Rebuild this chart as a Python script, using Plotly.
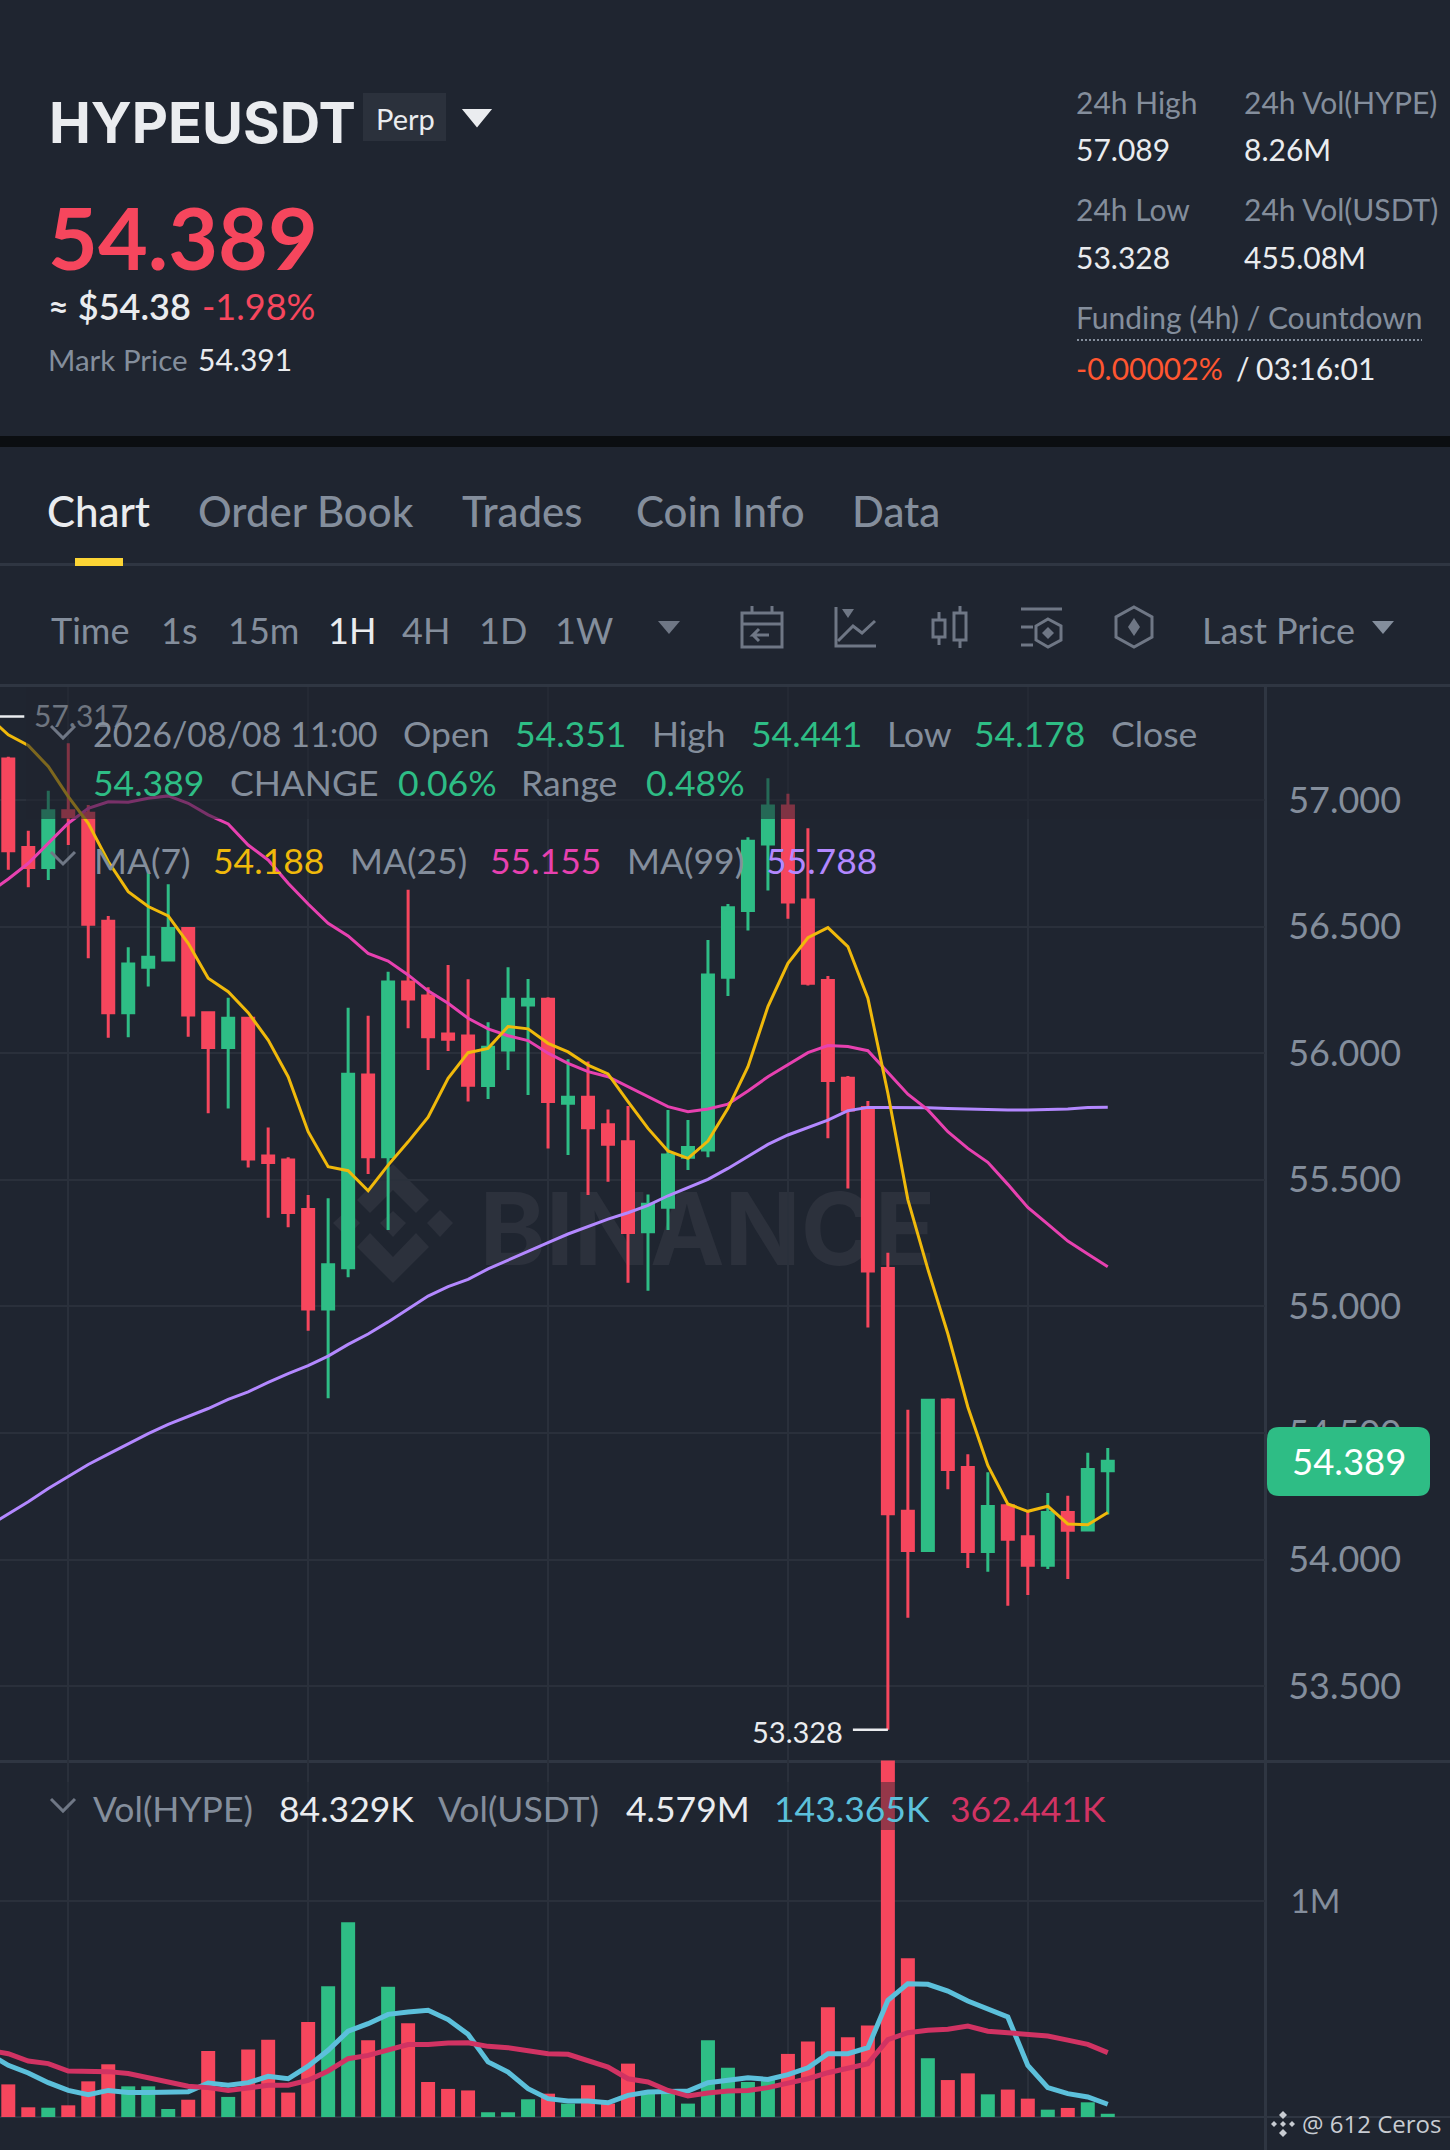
"""HYPEUSDT perp 1H candles with MA lines and volume, laid out like the Binance app screen."""

import plotly.graph_objects as go

W, H = 1450, 2150
BG, GRID, EDGE = "#1f2530", "#2a303b", "#2f3642"
GREEN, RED = "#2ebd85", "#f6465d"
GREY, WHITE, DIM_ICON = "#848e9c", "#eaecef", "#6f7785"
YELLOW, MAGENTA, PURPLE = "#f0b90b", "#e741b0", "#b388ff"
VOL_BLUE, VOL_RED = "#5cc0db", "#d13363"
FONT = "Lato"

# candles, hourly, oldest first
opens = [57.162, 56.812, 56.733, 56.957, 56.947, 56.521, 56.160, 56.339, 56.368, 56.492, 56.160, 56.022, 56.138, 55.594,
         55.578, 55.383, 54.990, 55.153, 55.914, 55.591, 56.281, 56.226, 56.076, 56.068, 55.872, 56.013, 56.190, 56.213,
         55.802, 55.826, 55.717, 55.650, 55.295, 55.392, 55.589, 55.618, 56.300, 56.563, 56.826, 56.976, 56.605, 56.287,
         55.901, 55.786, 55.150, 54.191, 54.036, 54.631, 54.364, 54.032, 54.213, 54.091, 53.978, 54.186, 54.117, 54.351]
highs = [57.171, 56.878, 57.036, 57.224, 56.980, 56.542, 56.418, 56.721, 56.667, 56.493, 56.161, 56.219, 56.140, 55.707,
         55.589, 55.440, 55.427, 56.179, 56.148, 56.322, 56.645, 56.260, 56.348, 56.292, 56.122, 56.339, 56.293, 56.221,
         55.976, 55.967, 55.778, 55.791, 55.442, 55.776, 55.736, 56.447, 56.589, 56.853, 57.086, 57.024, 56.888, 56.305,
         55.910, 55.811, 55.212, 54.592, 54.630, 54.637, 54.416, 54.345, 54.220, 54.189, 54.263, 54.252, 54.422, 54.441]
lows = [56.724, 56.655, 56.684, 56.822, 56.375, 56.061, 56.063, 56.263, 56.366, 56.065, 55.763, 55.782, 55.549, 55.350,
        55.313, 54.904, 54.637, 55.115, 55.523, 55.302, 56.098, 55.934, 56.009, 55.809, 55.819, 55.934, 55.835, 55.624,
        55.598, 55.440, 55.492, 55.094, 55.062, 55.302, 55.539, 55.589, 56.226, 56.484, 56.642, 56.531, 56.267, 55.664,
        55.466, 54.917, 53.328, 53.771, 54.036, 54.278, 53.967, 53.952, 53.818, 53.861, 53.963, 53.924, 54.117, 54.178]
closes = [56.799, 56.733, 56.957, 56.934, 56.509, 56.160, 56.352, 56.379, 56.492, 56.151, 56.022, 56.138, 55.582, 55.568,
          55.371, 54.990, 55.165, 55.917, 55.591, 56.281, 56.214, 56.065, 56.055, 55.873, 56.023, 56.213, 56.213, 55.809,
          55.826, 55.706, 55.640, 55.292, 55.404, 55.598, 55.628, 56.309, 56.574, 56.837, 56.976, 56.597, 56.276, 55.892,
          55.776, 55.140, 54.181, 54.036, 54.630, 54.356, 54.032, 54.210, 54.081, 53.978, 54.186, 54.116, 54.356, 54.389]

# moving averages start one candle left of the visible window
ma7 = [57.329, 57.257, 57.215, 57.132, 57.013, 56.908, 56.757, 56.638, 56.579, 56.542, 56.434, 56.296, 56.243, 56.160,
       56.052, 55.907, 55.690, 55.552, 55.536, 55.457, 55.558, 55.650, 55.747, 55.901, 56.002, 56.019, 56.105, 56.096,
       56.039, 56.005, 55.953, 55.918, 55.809, 55.703, 55.614, 55.585, 55.653, 55.782, 55.947, 56.184, 56.355, 56.456,
       56.496, 56.421, 56.217, 55.842, 55.422, 55.147, 54.892, 54.603, 54.372, 54.220, 54.191, 54.211, 54.141, 54.138, 54.186]
ma25 = [56.631, 56.688, 56.750, 56.829, 56.908, 56.967, 56.993, 56.991, 57.007, 57.016, 56.987, 56.941, 56.905, 56.822,
        56.763, 56.671, 56.589, 56.513, 56.463, 56.394, 56.364, 56.309, 56.246, 56.197, 56.138, 56.096, 56.069, 56.050,
        56.000, 55.960, 55.927, 55.907, 55.868, 55.828, 55.789, 55.769, 55.780, 55.799, 55.851, 55.907, 55.953, 56.002,
        56.030, 56.026, 56.010, 55.925, 55.838, 55.776, 55.690, 55.624, 55.569, 55.482, 55.391, 55.325, 55.258, 55.207, 55.157]
ma99 = [54.132, 54.180, 54.229, 54.281, 54.327, 54.376, 54.417, 54.459, 54.498, 54.534, 54.564, 54.597, 54.633, 54.663,
        54.700, 54.735, 54.766, 54.804, 54.850, 54.891, 54.939, 54.989, 55.041, 55.078, 55.107, 55.148, 55.183, 55.220,
        55.252, 55.286, 55.317, 55.345, 55.370, 55.399, 55.437, 55.470, 55.502, 55.545, 55.594, 55.640, 55.677, 55.707,
        55.736, 55.773, 55.786, 55.786, 55.786, 55.785, 55.782, 55.780, 55.777, 55.776, 55.776, 55.778, 55.780, 55.786, 55.787]

# volume in millions of HYPE
volumes = [.151, .045, .043, .054, .165, .244, .142, .142, .037, .080, .306, .093, .312, .358, .113, .440, .605, .901, .355,
           .603, .434, .162, .130, .123, .022, .022, .082, .108, .062, .147, .062, .247, .115, .108, .062, .355, .228, .162,
           .185, .292, .350, .508, .369, .423, 1.65, .735, .272, .171, .202, .105, .127, .085, .034, .042, .068, .015]
vol_ma_short = [.295, .239, .204, .159, .123, .103, .123, .113, .113, .113, .117, .157, .147, .159, .188, .177, .235, .309, .397,
                .432, .475, .486, .494, .451, .383, .255, .208, .131, .085, .074, .074, .066, .100, .116, .120, .120, .159,
                .170, .182, .174, .196, .228, .293, .293, .321, .540, .617, .614, .583, .537, .497, .463, .239, .136, .108, .093, .059]
vol_ma_long = [.310, .293, .259, .247, .213, .210, .210, .201, .181, .165, .142, .136, .123, .134, .147, .147, .170, .213, .270,
               .285, .312, .335, .336, .343, .344, .327, .321, .309, .293, .290, .262, .231, .177, .162, .123, .097, .111,
               .120, .123, .136, .157, .177, .205, .228, .247, .358, .390, .401, .406, .421, .397, .390, .384, .375, .356, .336, .298]

candle_x = list(range(len(closes)))
ma_x = list(range(-1, len(closes)))
grid_x = [3, 15, 27, 39, 51]
price_ticks = [53.5, 54.0, 54.5, 55.0, 55.5, 56.0, 56.5, 57.0]
price_tick_text = ["53.500", "54.000", "54.500", "55.000", "55.500", "56.000", "56.500", "57.000"]
visible_high, visible_low = 57.33, 53.328


def px(x, y):
    return x / W, 1 - y / H


def path(points, close=True):
    cmds = [f"{'M' if n == 0 else 'L'}{px(*p)[0]:.5f},{px(*p)[1]:.5f}" for n, p in enumerate(points)]
    return " ".join(cmds) + (" Z" if close else "")


shapes, annotations = [], []


def poly(points, fill=None, line=None, width=3, close=True, layer="above"):
    shapes.append(dict(type="path", xref="paper", yref="paper", layer=layer, path=path(points, close),
                       fillcolor=fill or "rgba(0,0,0,0)", line=dict(color=line or "rgba(0,0,0,0)", width=width if line else 0)))


def box(x0, y0, x1, y1, fill, layer="above"):
    (a, b), (c, d) = px(x0, y0), px(x1, y1)
    shapes.append(dict(type="rect", xref="paper", yref="paper", layer=layer, x0=a, y0=b, x1=c, y1=d, fillcolor=fill, line_width=0))


def label(text, x, y, size, color=GREY, weight=400, anchor="left", family=FONT):
    # Lato sits a little right of the box edge
    a, b = px(x - 2 if anchor == "left" else x, y)
    annotations.append(dict(text=text, x=a, y=b, xref="paper", yref="paper", xanchor=anchor, yanchor="middle", showarrow=False,
                            borderpad=0, font=dict(family=family, size=size, color=color, weight=weight)))


def chevron(y):
    poly([(51, y), (63, y + 12), (75, y)], line=DIM_ICON, width=3, close=False)


# page chrome, drawn under the traces
box(0, 436, W, 447, "#0b0e11", layer="below")
box(0, 563, W, 566, EDGE, layer="below")
box(0, 684, W, 687, EDGE, layer="below")
box(0, 1760, W, 1763, EDGE, layer="below")
box(0, 2116, W, 2118, EDGE, layer="below")
box(1264, 687, 1267, H, EDGE, layer="below")

# watermark
WM = "#2c313c"
for pts in [
    [(357, 1200), (393, 1164), (429, 1200), (416, 1213), (393, 1190), (370, 1213)],
    [(357, 1247), (370, 1233), (393, 1257), (416, 1233), (429, 1247), (393, 1283)],
    [(380, 1223), (393, 1211), (406, 1223), (393, 1237)],
    [(333, 1223), (347, 1210), (360, 1223), (347, 1237)],
    [(427, 1223), (440, 1210), (453, 1223), (440, 1237)],
]:
    poly(pts, fill=WM, layer="below")
shapes.append(dict(type="rect", xref="paper", yref="paper", layer="below", x0=470 / W, x1=945 / W, y0=1 - 1265 / H, y1=1 - 1185 / H,
                   line_width=0, fillcolor="rgba(0,0,0,0)",
                   label=dict(text="BINANCE", textposition="middle center",
                              font=dict(family="Inter", size=100, color=WM, weight=700))))

# header
label("HYPEUSDT", 50, 123, 56, WHITE, 700, family="Inter")
box(363, 93, 446, 141, "#2b313c")
label("Perp", 405, 119, 29, WHITE, anchor="center")
poly([(464, 110), (490, 110), (477, 126)], fill=WHITE, line=WHITE, width=2)
label("54.389", 49, 236, 86, RED, 700)
label("≈ $54.38", 49, 306, 36, WHITE, 600)
label("-1.98%", 203, 306, 36, RED)
label("Mark Price", 49, 359, 29.5)
label("54.391", 199, 359, 30, WHITE)
for x, top, value in [(1077, "24h High", "57.089"), (1245, "24h Vol(HYPE)", "8.26M")]:
    label(top, x, 102, 30)
    label(value, x, 149, 30, WHITE)
for x, top, value in [(1077, "24h Low", "53.328"), (1245, "24h Vol(USDT)", "455.08M")]:
    label(top, x, 209, 30)
    label(value, x, 257, 30, WHITE)
label("Funding (4h) / Countdown", 1077, 317, 30)
shapes.append(dict(type="line", xref="paper", yref="paper", x0=1077 / W, x1=1422 / W, y0=1 - 340 / H, y1=1 - 340 / H,
                   line=dict(color=GREY, width=2, dash="2px,2px")))
label("-0.00002%", 1077, 368, 30, "#ff5630")
label("/", 1237, 368, 30, WHITE)
label("03:16:01", 1257, 368, 30, WHITE)

# tabs
for x, text, color, weight in [(48, "Chart", WHITE, 500), (199, "Order Book", GREY, 500), (463, "Trades", GREY, 500),
                               (637, "Coin Info", GREY, 500), (853, "Data", GREY, 500)]:
    label(text, x, 511, 42, color, weight)
box(75, 558, 123, 566, "#fcd535")

# toolbar
for x, text, color in [(52, "Time", GREY), (162, "1s", GREY), (229, "15m", GREY), (329, "1H", WHITE), (403, "4H", GREY),
                       (480, "1D", GREY), (556, "1W", GREY), (1203, "Last Price", GREY)]:
    label(text, x, 630, 36, color)
poly([(658, 621), (680, 621), (669, 634)], fill=DIM_ICON)
poly([(1372, 621), (1394, 621), (1383, 634)], fill=GREY)
# calendar
poly([(742, 613), (782, 613), (782, 647), (742, 647)], line=DIM_ICON)
poly([(742, 624), (782, 624)], line=DIM_ICON, close=False)
poly([(752, 606), (752, 613)], line=DIM_ICON, close=False)
poly([(772, 606), (772, 613)], line=DIM_ICON, close=False)
poly([(769, 635), (753, 635), (759, 629), (753, 635), (759, 641)], line=DIM_ICON, close=False)
# line chart
poly([(836, 607), (836, 646), (876, 646)], line=DIM_ICON, close=False)
poly([(842, 609), (854, 609), (848, 618)], fill=DIM_ICON)
poly([(838, 641), (853, 626), (862, 633), (875, 621)], line=DIM_ICON, close=False)
# candles
poly([(933, 620), (945, 620), (945, 637), (933, 637)], line=DIM_ICON)
poly([(939, 612), (939, 620)], line=DIM_ICON, close=False)
poly([(939, 637), (939, 645)], line=DIM_ICON, close=False)
poly([(954, 613), (966, 613), (966, 640), (954, 640)], line=DIM_ICON)
poly([(960, 606), (960, 613)], line=DIM_ICON, close=False)
poly([(960, 640), (960, 648)], line=DIM_ICON, close=False)
# indicators
poly([(1021, 609), (1062, 609)], line=DIM_ICON, close=False)
poly([(1021, 627), (1033, 627)], line=DIM_ICON, close=False)
poly([(1021, 645), (1033, 645)], line=DIM_ICON, close=False)
poly([(1048, 619), (1061, 626), (1061, 640), (1048, 647), (1036, 640), (1036, 626)], line=DIM_ICON)
poly([(1048, 627), (1054, 633), (1048, 639), (1042, 633)], fill=DIM_ICON)
# hexagon
poly([(1134, 607), (1152, 617), (1152, 637), (1134, 647), (1116, 637), (1116, 617)], line=DIM_ICON)
poly([(1134, 618), (1140, 627), (1134, 636), (1128, 627)], fill=DIM_ICON)

# text blocks above the chart fade whatever runs under them
box(26, 687, 1264, 819, "rgba(31,37,48,0.55)")
box(0, 1782, 1264, 1830, "rgba(31,37,48,0.45)")

label("57.317", 35, 715, 30, "#6e7580")
chevron(726)
chevron(852)
chevron(1799)
for x, y, text, color in [
    (404, 734, "Open", GREY), (516, 734, "54.351", GREEN), (653, 734, "High", GREY),
    (752, 734, "54.441", GREEN), (888, 734, "Low", GREY), (975, 734, "54.178", GREEN), (1112, 734, "Close", GREY),
    (94, 782, "54.389", GREEN), (231, 782, "CHANGE", GREY), (399, 782, "0.06%", GREEN), (522, 782, "Range", GREY),
    (647, 782, "0.48%", GREEN),
    (95, 860, "MA(7)", GREY), (214, 860, "54.188", YELLOW), (351, 860, "MA(25)", GREY), (491, 860, "55.155", MAGENTA),
    (628, 860, "MA(99)", GREY), (767, 860, "55.788", PURPLE),
    (94, 1808, "Vol(HYPE)", GREY), (280, 1808, "84.329K", WHITE), (439, 1808, "Vol(USDT)", GREY), (627, 1808, "4.579M", WHITE),
    (775, 1808, "143.365K", VOL_BLUE), (951, 1808, "362.441K", VOL_RED),
]:
    label(text, x, y, 35.5, color)
label("2026/08/08 11:00", 94, 734, 34, GREY)
label("53.328", 844, 1731, 29, WHITE, anchor="right")

# live price tag
shapes.append(dict(type="path", xref="paper", yref="paper", layer="above", fillcolor=GREEN, line_width=0, path=(
    f"M{1279/W:.5f},{1-1427/H:.5f} L{1418/W:.5f},{1-1427/H:.5f} Q{1430/W:.5f},{1-1427/H:.5f} {1430/W:.5f},{1-1439/H:.5f} "
    f"L{1430/W:.5f},{1-1484/H:.5f} Q{1430/W:.5f},{1-1496/H:.5f} {1418/W:.5f},{1-1496/H:.5f} L{1279/W:.5f},{1-1496/H:.5f} "
    f"Q{1267/W:.5f},{1-1496/H:.5f} {1267/W:.5f},{1-1484/H:.5f} L{1267/W:.5f},{1-1439/H:.5f} Q{1267/W:.5f},{1-1427/H:.5f} {1279/W:.5f},{1-1427/H:.5f} Z")))
label("54.389", 1349, 1461, 36.5, "#ffffff", anchor="center")

# credit
CREDIT = "#c8ccd2"
for cx, cy, r in [(1283, 2124, 3), (1283, 2115, 4), (1283, 2133, 4), (1274, 2124, 3), (1292, 2124, 3)]:
    poly([(cx - r, cy), (cx, cy - r), (cx + r, cy), (cx, cy + r)], fill=CREDIT)
label("@ 612 Ceros", 1303, 2123, 24, CREDIT, family="Open Sans")

fig = go.Figure()
fig.add_trace(go.Candlestick(
    x=candle_x, open=opens, high=highs, low=lows, close=closes, xaxis="x", yaxis="y",
    increasing=dict(line=dict(color=GREEN, width=3), fillcolor=GREEN),
    decreasing=dict(line=dict(color=RED, width=3), fillcolor=RED),
))
for values, color in [(ma99, PURPLE), (ma25, MAGENTA), (ma7, YELLOW)]:
    fig.add_trace(go.Scatter(x=ma_x, y=values, mode="lines", line=dict(color=color, width=3), xaxis="x", yaxis="y"))
# extreme price markers
fig.add_trace(go.Scatter(x=[-1, 0.8], y=[visible_high] * 2, mode="lines", line=dict(color=WHITE, width=2.5), xaxis="x", yaxis="y"))
fig.add_trace(go.Scatter(x=[42.25, 44], y=[visible_low] * 2, mode="lines", line=dict(color=WHITE, width=2.5), xaxis="x", yaxis="y"))

fig.add_trace(go.Bar(
    x=candle_x, y=volumes, width=0.7, xaxis="x2", yaxis="y2",
    marker=dict(color=[GREEN if c >= o else RED for o, c in zip(opens, closes)], line_width=0),
))
fig.add_trace(go.Scatter(x=ma_x, y=vol_ma_short, mode="lines", line=dict(color=VOL_BLUE, width=5), xaxis="x2", yaxis="y2"))
fig.add_trace(go.Scatter(x=ma_x, y=vol_ma_long, mode="lines", line=dict(color=VOL_RED, width=5), xaxis="x2", yaxis="y2"))

x_axis = dict(range=[-0.415, 62.865], domain=[0, 1265 / W], tickvals=grid_x, showticklabels=False, ticks="", showgrid=True,
              gridcolor=GRID, gridwidth=2, zeroline=False, showline=False, rangeslider=dict(visible=False))
fig.update_layout(
    width=W, height=H, margin=dict(l=0, r=0, t=0, b=0), showlegend=False, hovermode=False,
    paper_bgcolor=BG, plot_bgcolor="rgba(0,0,0,0)", boxgap=0.45, boxgroupgap=0, barmode="overlay",
    font=dict(family=FONT, color=GREY),
    xaxis=dict(x_axis, anchor="y"),
    xaxis2=dict(x_axis, anchor="y2"),
    yaxis=dict(domain=[1 - 1760 / H, 1 - 687 / H], range=[53.209, 57.446], side="right", anchor="x", tickvals=price_ticks,
               ticktext=price_tick_text, ticks="outside", ticklen=15, tickcolor="rgba(0,0,0,0)", showgrid=True, gridcolor=GRID,
               gridwidth=2, zeroline=False, showline=False, tickfont=dict(family=FONT, size=36, color=GREY)),
    yaxis2=dict(domain=[1 - 2117 / H, 1 - 1759 / H], range=[0, 1.657], side="right", anchor="x2", tickvals=[1], ticktext=["1M"],
                ticks="outside", ticklen=18, tickcolor="rgba(0,0,0,0)", showgrid=True, gridcolor=GRID, gridwidth=2, zeroline=False,
                showline=False, tickfont=dict(family=FONT, size=33, color=GREY)),
    shapes=shapes, annotations=annotations,
)

fig.write_html("out.html", config=dict(displayModeBar=False),
               post_script="document.body.style.margin='0';document.body.style.overflow='hidden';")
